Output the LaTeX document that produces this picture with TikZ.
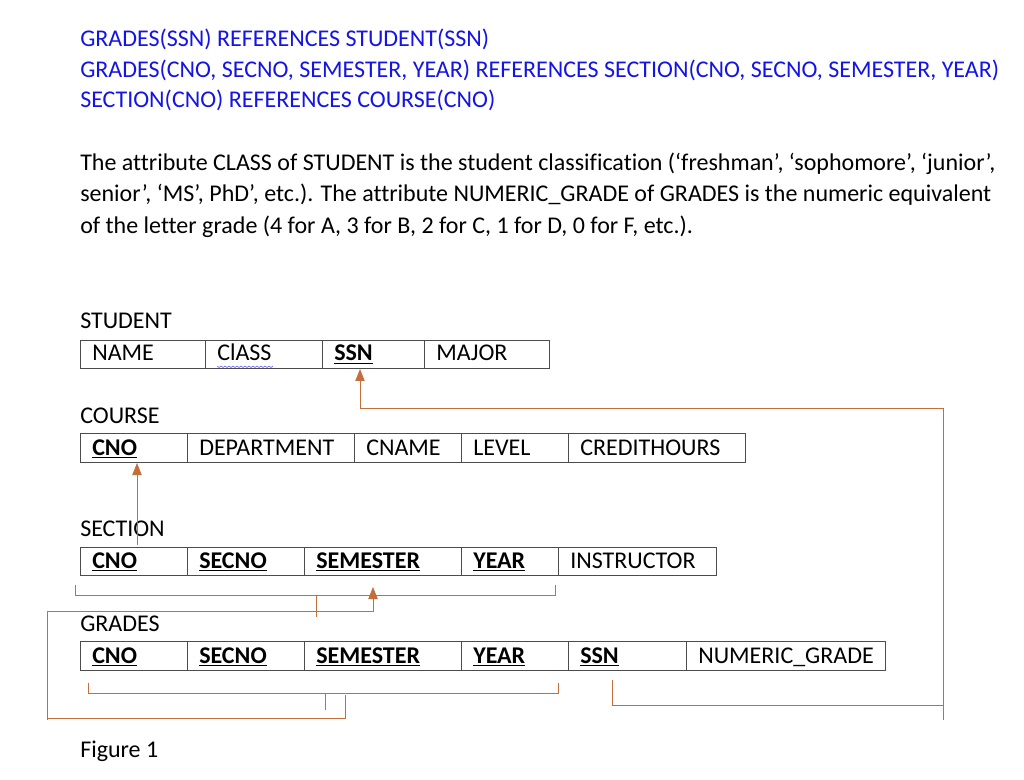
\documentclass[tikz,border=0pt]{standalone}
\usepackage{fontspec}
\setmainfont[Ligatures=NoCommon]{Carlito}
\usetikzlibrary{arrows.meta}
\definecolor{blu}{RGB}{20,20,230}
\definecolor{org}{RGB}{196,110,60}
\begin{document}
\begin{tikzpicture}[x=0.75pt,y=-0.75pt,
  txt/.style={anchor=base west,inner sep=0pt,font=\fontsize{18}{21}\selectfont},
  cell/.style={draw=black!70,line width=0.6pt},
  con/.style={draw=org,line width=0.6pt},
  arr/.style={con,-{Triangle[length=9pt,width=7pt]}}]
\useasboundingbox (0,0) rectangle (1024,780);
\fill[white] (0,0) rectangle (1024,780);
% header
\node[txt,text=blu] (h1) at (80,47) {GRADES(SSN) REFERENCES STUDENT(SSN)};
\node[txt,text=blu] (h2) at (80,78) {GRADES(CNO, SECNO, SEMESTER, YEAR) REFERENCES SECTION(CNO, SECNO, SEMESTER, YEAR)};
\node[txt,text=blu] (h3) at (80,108) {SECTION(CNO) REFERENCES COURSE(CNO)};
\node[txt] (p1) at (80,171) {The attribute CLASS of STUDENT is the student classification (‘freshman’, ‘sophomore’, ‘junior’,};
\node[txt] (p2) at (80,202) {senior’, ‘MS’, PhD’, etc.). The attribute NUMERIC\_GRADE of GRADES is the numeric equivalent};
\node[txt] (p3) at (80,234) {of the letter grade (4 for A, 3 for B, 2 for C, 1 for D, 0 for F, etc.).};
% titles
\node[txt] (tS) at (80,329) {STUDENT};
\node[txt] (tC) at (80,423) {COURSE};
\node[txt] (tSe) at (80,536) {SECTION};
\node[txt] (tG) at (80,631) {GRADES};
\node[txt] (fig) at (80,757) {Figure 1};
% STUDENT
\draw[cell] (80,340) rectangle (549,368);
\foreach \x in {205,322,424} \draw[cell] (\x,340) -- (\x,368);
\node[txt] at (92,361) {NAME};
\node[txt] (cls) at (217,361) {ClASS};
\node[txt] (sssn) at (334,361) {\textbf{\underline{SSN}}};
\node[txt] at (436,361) {MAJOR};
% COURSE
\draw[cell] (80,433) rectangle (745,462);
\foreach \x in {187,354,461,568} \draw[cell] (\x,433) -- (\x,462);
\node[txt] (ccno) at (92,455) {\textbf{\underline{CNO}}};
\node[txt] at (199,455) {DEPARTMENT};
\node[txt] at (366,455) {CNAME};
\node[txt] at (473,455) {LEVEL};
\node[txt] at (580,455) {CREDITHOURS};
% SECTION
\draw[cell] (80,547) rectangle (716,575);
\foreach \x in {187,304,461,558} \draw[cell] (\x,547) -- (\x,575);
\node[txt] at (92,568) {\textbf{\underline{CNO}}};
\node[txt] at (199,568) {\textbf{\underline{SECNO}}};
\node[txt] at (316,568) {\textbf{\underline{SEMESTER}}};
\node[txt] at (473,568) {\textbf{\underline{YEAR}}};
\node[txt] at (570,568) {INSTRUCTOR};
% GRADES
\draw[cell] (80,641) rectangle (885,670);
\foreach \x in {187,304,461,568,686} \draw[cell] (\x,641) -- (\x,670);
\node[txt] at (92,663) {\textbf{\underline{CNO}}};
\node[txt] at (199,663) {\textbf{\underline{SECNO}}};
\node[txt] at (316,663) {\textbf{\underline{SEMESTER}}};
\node[txt] at (473,663) {\textbf{\underline{YEAR}}};
\node[txt] (gssn) at (580,663) {\textbf{\underline{SSN}}};
\node[txt] at (698,663) {NUMERIC\_GRADE};
% wavy underline under ClASS
\draw[blu!70,line width=0.4pt] (217,366) \foreach \i in {0,...,13} {-- ++(2,1.5) -- ++(2,-1.5)};
% connectors
\draw[con] (943,408) -- (943,720);
\draw[arr] (943,408) -- (360,408) -- (360,369);
\draw[con] (612,680) -- (612,705) -- (943,705);
\draw[arr] (137,545) -- (137,463);
% section brace
\draw[con] (75,585) -- (75,595) -- (555,595) -- (555,585);
\draw[con] (316,595) -- (316,617);
\draw[arr] (47,720) -- (47,611) -- (373,611) -- (373,587);
% grades brace
\draw[con] (88,683) -- (88,693) -- (558,693) -- (558,683);
\draw[con] (325,693) -- (325,710);
\draw[con] (47,718) -- (345,718) -- (345,695);
\end{tikzpicture}
\end{document}
